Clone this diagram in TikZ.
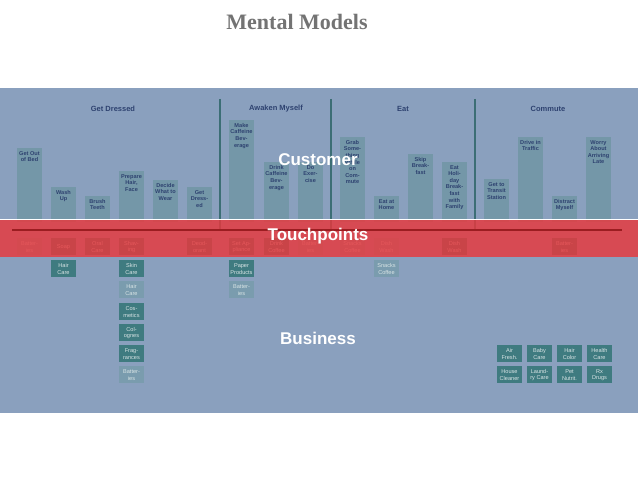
\documentclass[tikz,border=0pt]{standalone}
\usepackage{fontspec}
\setmainfont{Liberation Sans}
\newfontfamily\ttl{Liberation Serif}
\begin{document}
\begin{tikzpicture}[x=1pt,y=-1pt,
  bart/.style={anchor=north,inner sep=0pt,align=center,font=\fontsize{5.6}{6.6}\selectfont\bfseries,text=navy},
  tp/.style={fill=tpc,draw=none,minimum width=25pt,minimum height=17pt,inner sep=0pt,align=center,font=\fontsize{5.6}{6.6}\selectfont,text=white!80!tpc},
  tpl/.style={tp,fill=tpl},
  hdr/.style={font=\fontsize{7.5}{9}\selectfont\bfseries,text=navy},
  big/.style={font=\fontsize{17}{20}\selectfont\bfseries,text=white},
  div/.style={draw=divc,line width=2.5pt}]
\definecolor{bg}{HTML}{8AA0BE}
\definecolor{cbar}{HTML}{7497A8}
\definecolor{navy}{HTML}{2E4270}
\definecolor{tpc}{HTML}{3F7B80}
\definecolor{tpl}{HTML}{7A9CAE}
\definecolor{divc}{HTML}{3C6E75}
\definecolor{redb}{HTML}{E8383C}
\useasboundingbox (0,0) rectangle (638,478);
\fill[white] (0,0) rectangle (638,478);
\fill[bg] (0,88) rectangle (638,413);
\node[font=\ttl\fontsize{22}{24}\selectfont\bfseries,text=black!55] (title) at (297,22) {Mental Models};
\node[hdr] (h1) at (113,109) {Get Dressed};
\node[hdr] (h2) at (276,109) {Awaken Myself};
\node[hdr] (h3) at (403,109) {Eat};
\node[hdr] (h4) at (548,109) {Commute};
\draw[div] (220,99) -- (220,229);
\draw[div] (331,99) -- (331,229);
\draw[div] (475,99) -- (475,229);
\foreach \x/\t/\s [count=\i] in {
 17/148/{Get Out\\of Bed},51/187/{Wash\\Up},85/196/{Brush\\Teeth},119/171/{Prepare\\Hair,\\Face},
 153/180/{Decide\\What to\\Wear},187/187/{Get\\Dress-\\ed},229/120/{Make\\Caffeine\\Bev-\\erage},
 264/162/{Drink\\Caffeine\\Bev-\\erage},298/162/{Do\\Exer-\\cise},340/137/{Grab\\Some-\\thing\\While\\on\\Com-\\mute},
 374/196/{Eat at\\Home},408/154/{Skip\\Break-\\fast},442/162/{Eat\\Holi-\\day\\Break-\\fast\\with\\Family},
 484/179/{Get to\\Transit\\Station},518/137/{Drive in\\Traffic},552/196/{Distract\\Myself},586/137/{Worry\\About\\Arriving\\Late}}
 {\fill[cbar] (\x,\t) rectangle (\x+25,222);
  \node[bart] (c\i) at (\x+12.5,\t+3) {\s};}
\foreach \x/\y/\s/\st [count=\i] in {
 29.5/247/{Batter-\\ies}/tpl,63.5/247/{Soap}/tp,97.5/247/{Oral\\Care}/tp,131.5/247/{Shav-\\ing}/tp,199.5/247/{Deod-\\orant}/tp,
 241.5/247/{Set Ap-\\pliance}/tp,276.5/247/{Drink\\Coffee}/tp,310.5/247/{Batter-\\ies}/tpl,352.5/247/{Snacks\\Coffee}/tpl,
 386.5/247/{Dish\\Wash}/tpl,454.5/247/{Dish\\Wash}/tp,564.5/247/{Batter-\\ies}/tp,
 63.5/269/{Hair\\Care}/tp,131.5/269/{Skin\\Care}/tp,241.5/269/{Paper\\Products}/tp,386.5/269/{Snacks\\Coffee}/tpl,
 131.5/290/{Hair\\Care}/tpl,241.5/290/{Batter-\\ies}/tpl,131.5/312/{Cos-\\metics}/tp,131.5/333/{Col-\\ognes}/tp,
 131.5/354/{Frag-\\rances}/tp,131.5/375/{Batter-\\ies}/tpl,
 509.5/354/{Air\\Fresh.}/tp,539.5/354/{Baby\\Care}/tp,569.5/354/{Hair\\Color}/tp,599.5/354/{Health\\Care}/tp,
 509.5/375/{House\\Cleaner}/tp,539.5/375/{Laund-\\ry Care}/tp,569.5/375/{Pet\\Nutrit.}/tp,599.5/375/{Rx\\Drugs}/tp}
 {\node[\st] (t\i) at (\x,\y) {\s};}
\fill[redb,opacity=0.82] (0,219) rectangle (638,257);
\draw[white,line width=0.8pt] (0,219) -- (638,219);
\draw[red!45!black,opacity=0.6,line width=2.5pt] (12,230) -- (622,230);
\node[big] (cust) at (318,160) {Customer};
\node[big] (touch) at (318,236) {Touchpoints};
\node[big] (bus) at (318,338) {Business};
\end{tikzpicture}
\end{document}
